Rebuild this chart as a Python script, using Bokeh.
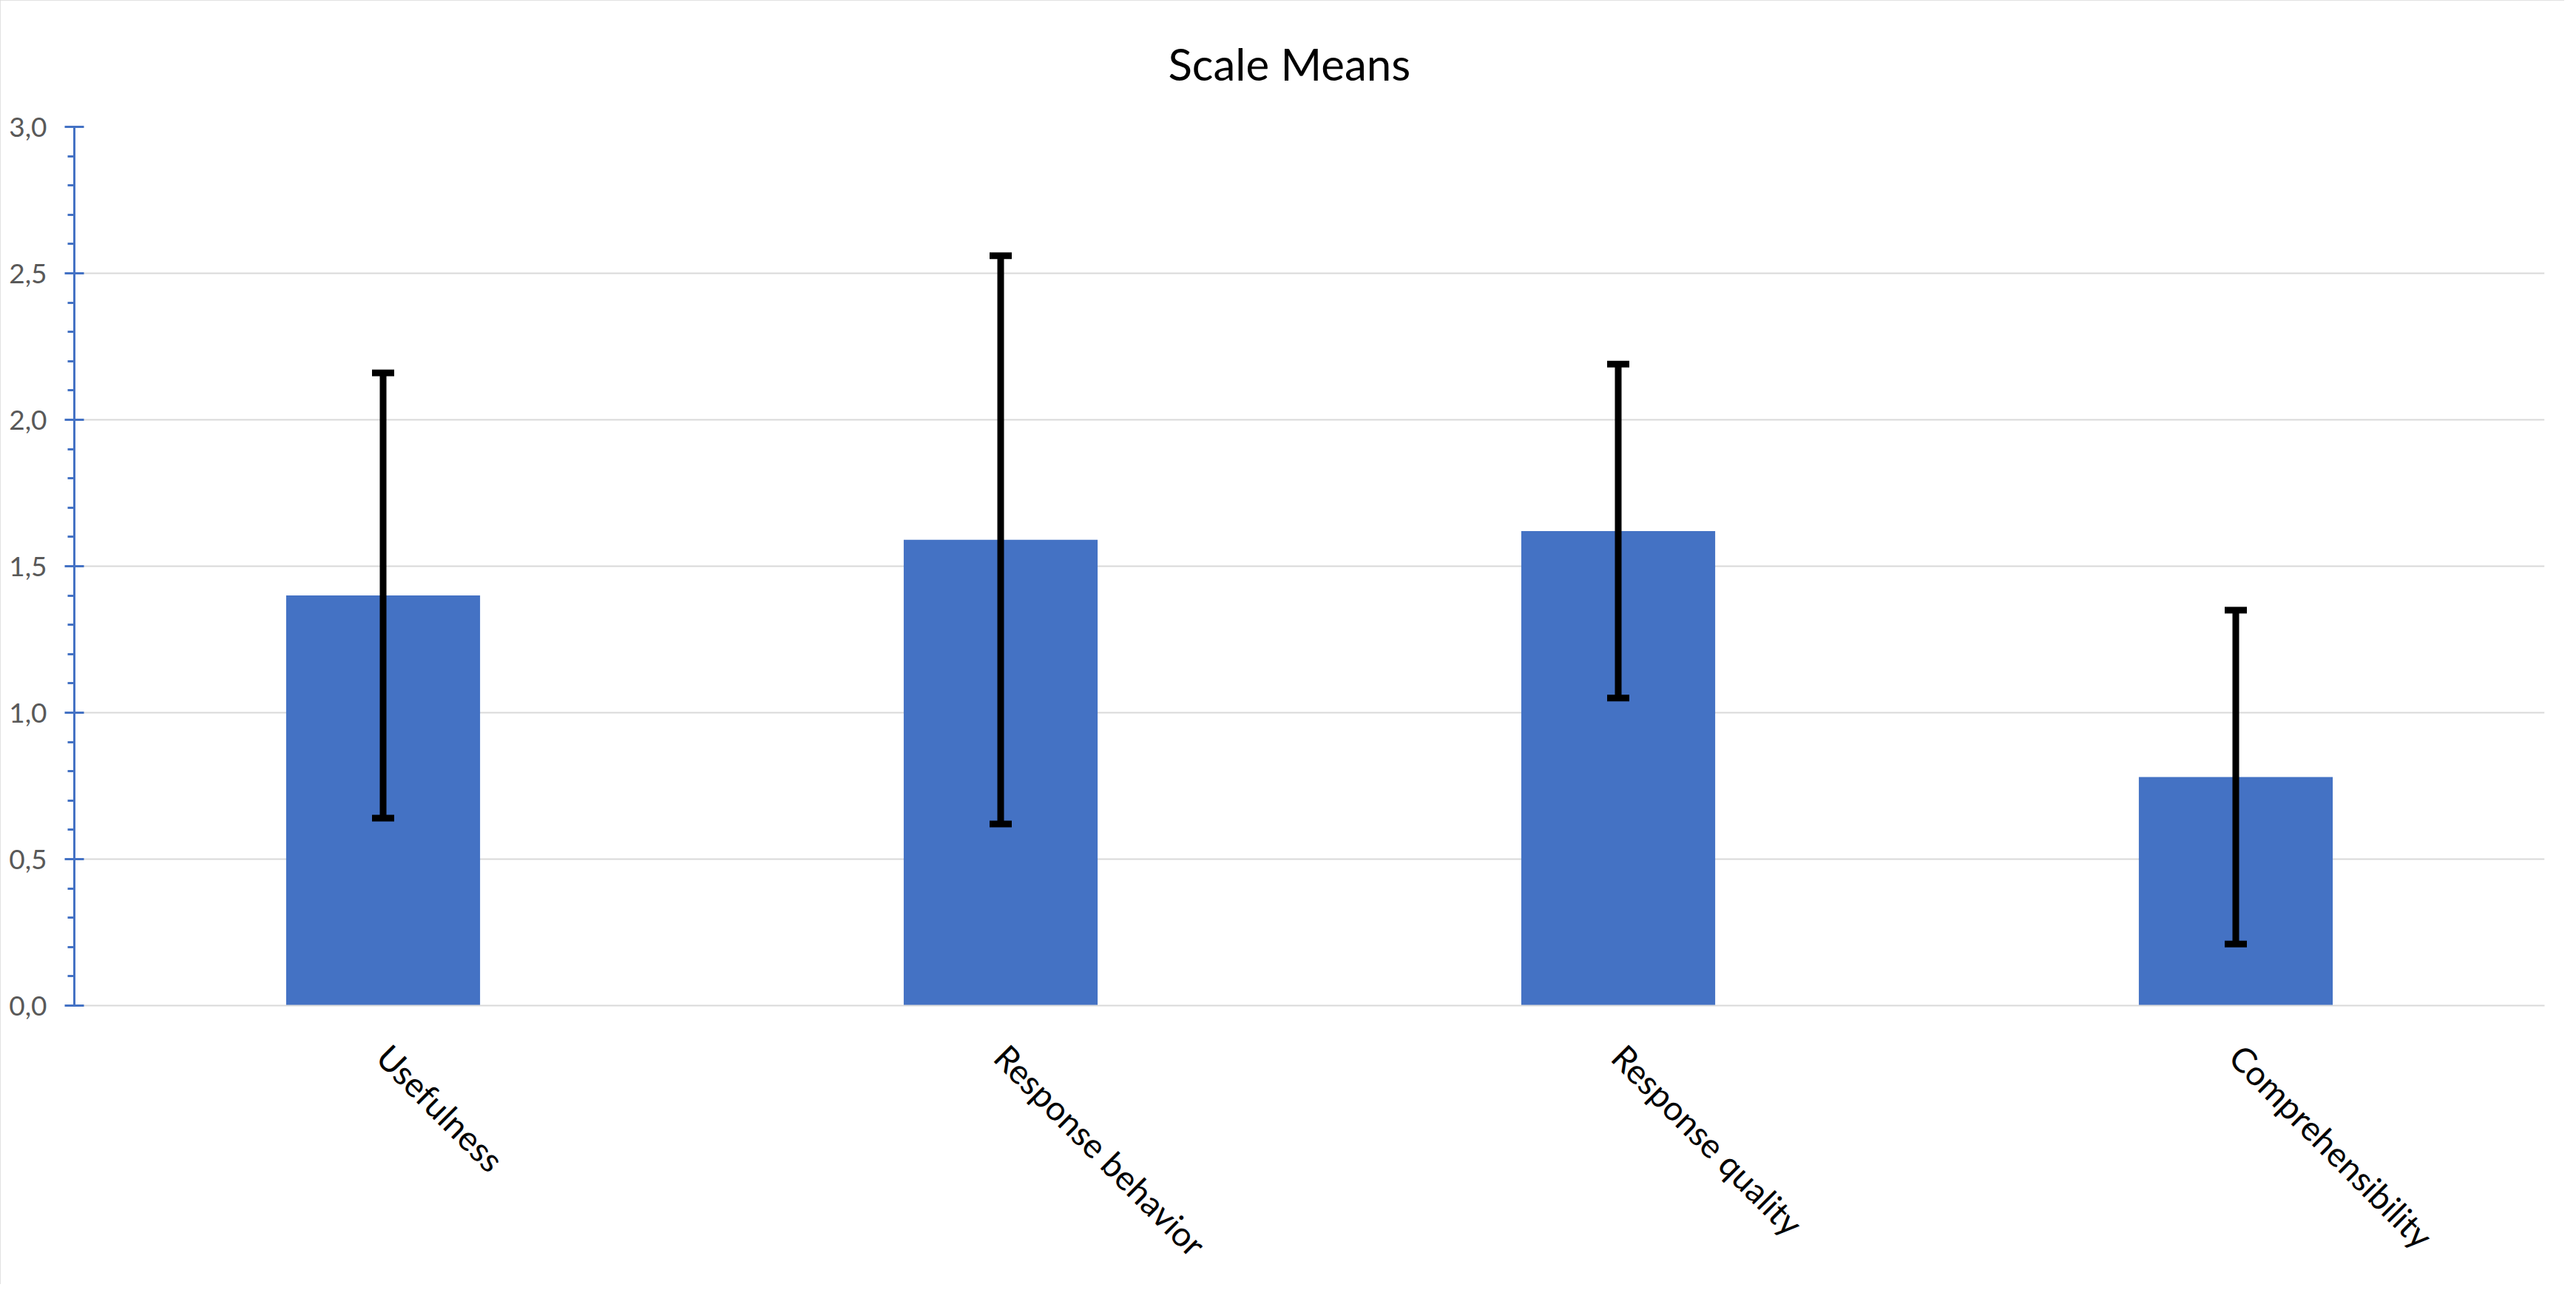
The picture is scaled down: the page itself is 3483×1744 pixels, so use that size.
from bokeh.plotting import figure
from bokeh.models import ColumnDataSource, FactorRange, Range1d, Whisker, TeeHead, FixedTicker
from bokeh.embed import file_html
from bokeh.resources import INLINE
import math

# ---- data ----
categories = ["Usefulness", "Response behavior", "Response quality", "Comprehensibility"]
means = [1.40, 1.59, 1.62, 0.78]
std_devs = [0.76, 0.97, 0.57, 0.57]
y_ticks = [0.0, 0.5, 1.0, 1.5, 2.0, 2.5, 3.0]
y_tick_labels = ["0,0", "0,5", "1,0", "1,5", "2,0", "2,5", "3,0"]
title_text = "Scale Means"

BLUE = "#4472C4"
GRID = "#D9D9D9"
FONT = "Lato"

W, H = 3467, 1736
ML, MR, MT, MB = 100, 27, 171, H - 1359

source = ColumnDataSource(dict(
    cat=categories,
    mean=means,
    upper=[m + s for m, s in zip(means, std_devs)],
    lower=[m - s for m, s in zip(means, std_devs)],
))

p = figure(
    x_range=FactorRange(factors=categories),
    y_range=Range1d(0, 3),
    width=W, height=H,
    output_backend="svg", toolbar_location=None,
    min_border_left=ML, min_border_right=MR,
    min_border_top=MT, min_border_bottom=MB,
)
p.styles = {"outline": "3px solid #D9D9D9", "outline-offset": "-3px"}

p.title.text = title_text
p.title.align = "left"
p.title.vertical_align = "top"
p.title.offset = 1479
p.title.standoff = 95
p.title.text_font = FONT
p.title.text_font_size = "60px"
p.title.text_font_style = "normal"
p.title.text_color = "#000000"

p.vbar(x="cat", top="mean", width=0.314, source=source, fill_color=BLUE, line_color=None)

w = Whisker(base="cat", upper="upper", lower="lower", source=source,
            line_color="black", line_width=9, level="overlay",
            upper_head=TeeHead(size=30, line_width=9, line_color="black"),
            lower_head=TeeHead(size=30, line_width=9, line_color="black"))
p.add_layout(w)

# y axis
minor = [i / 10 for i in range(31)]
p.yaxis.ticker = FixedTicker(ticks=y_ticks, minor_ticks=minor)
p.yaxis.major_label_overrides = {t: l for t, l in zip(y_ticks, y_tick_labels)}
p.yaxis.axis_line_color = BLUE
p.yaxis.axis_line_width = 3
p.yaxis.major_tick_line_color = BLUE
p.yaxis.major_tick_line_width = 3
p.yaxis.major_tick_out = 13
p.yaxis.major_tick_in = 13
p.yaxis.minor_tick_line_color = BLUE
p.yaxis.minor_tick_line_width = 3
p.yaxis.minor_tick_out = 9
p.yaxis.minor_tick_in = 0
p.yaxis.major_label_text_font = FONT
p.yaxis.major_label_text_font_size = "37px"
p.yaxis.major_label_text_color = "#595959"
p.yaxis.major_label_standoff = 24

# x axis
p.xaxis.axis_line_color = GRID
p.xaxis.axis_line_width = 2
p.xaxis.major_tick_line_color = None
p.xaxis.minor_tick_line_color = None
p.xaxis.major_label_orientation = -math.pi / 4
p.xaxis.major_label_text_font = FONT
p.xaxis.major_label_text_font_size = "46px"
p.xaxis.major_label_text_color = "#000000"
p.xaxis.major_label_standoff = 55

p.xgrid.grid_line_color = None
p.ygrid.grid_line_color = GRID
p.ygrid.grid_line_width = 2
p.ygrid.ticker = FixedTicker(ticks=y_ticks)
p.outline_line_color = None
p.background_fill_color = "white"
p.border_fill_color = "white"

open("out.html", "w").write(file_html(p, INLINE))
